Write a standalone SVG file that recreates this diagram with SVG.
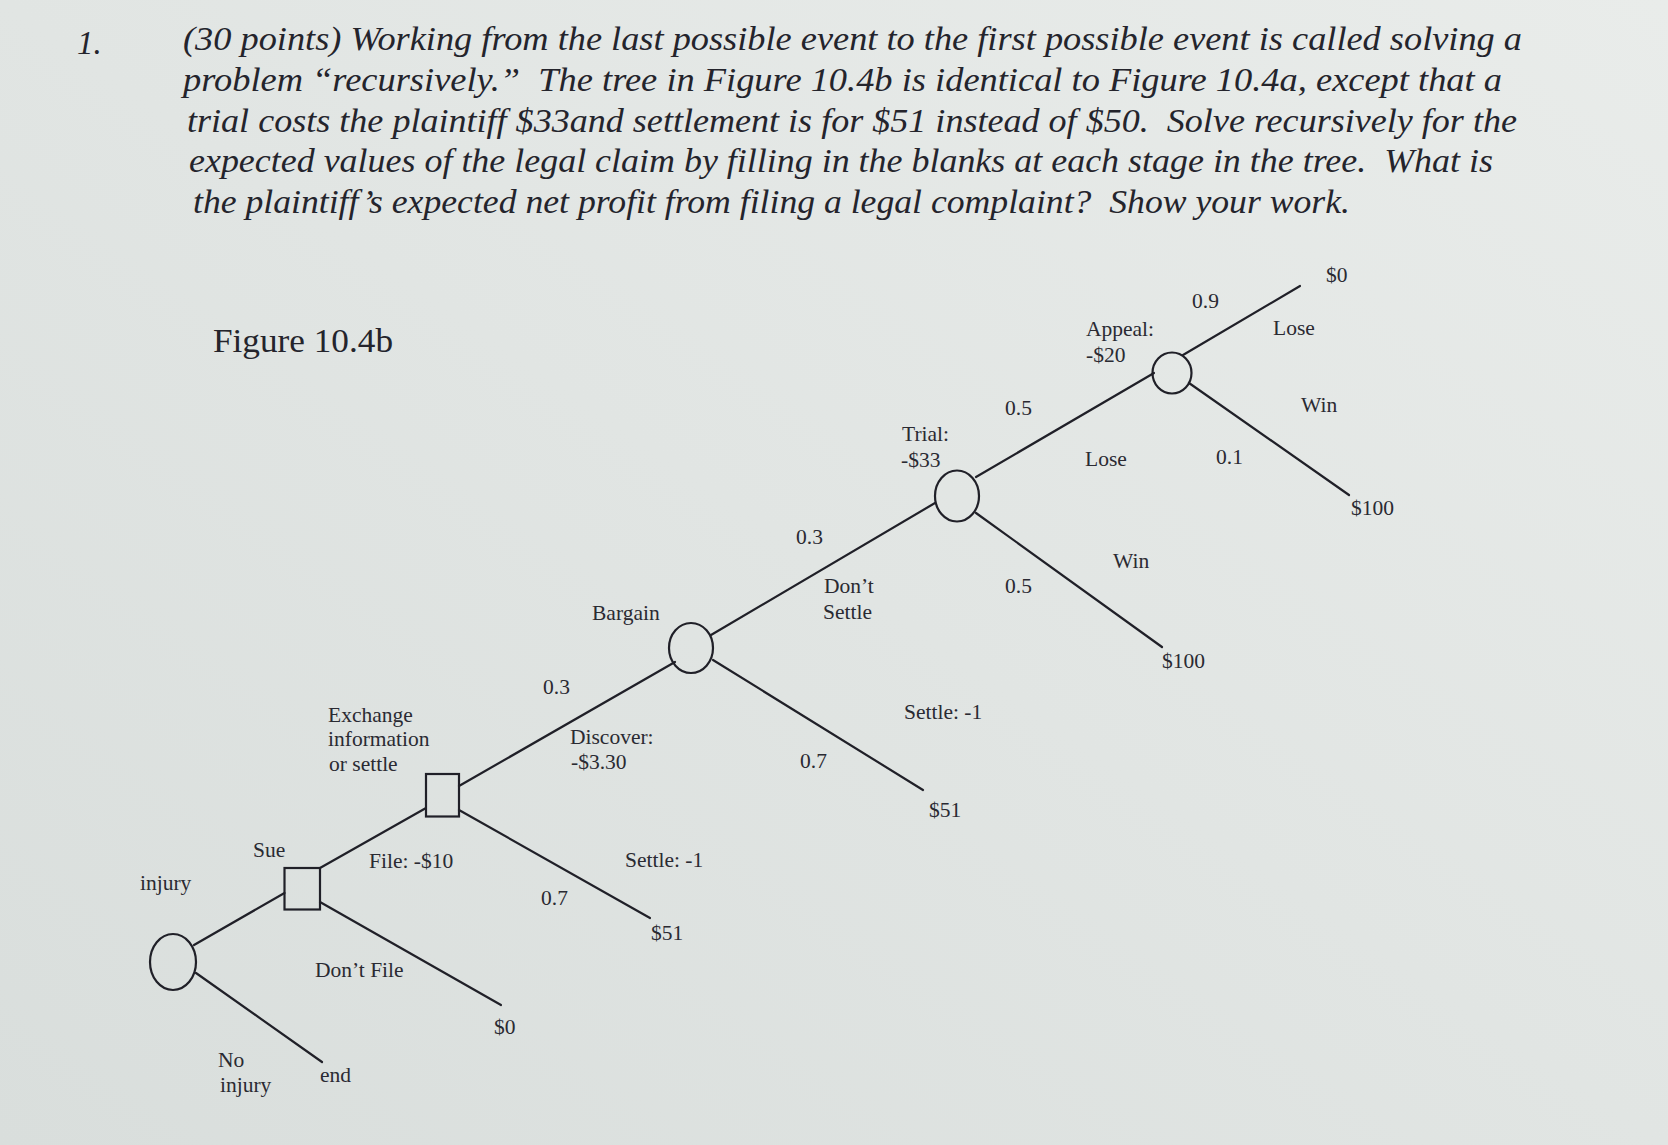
<svg xmlns="http://www.w3.org/2000/svg" width="1668" height="1145" viewBox="0 0 1668 1145">
  <defs>
    <linearGradient id="bg" x1="1" y1="0" x2="0" y2="1">
      <stop offset="0" stop-color="#e9ecea"/>
      <stop offset="1" stop-color="#d9dedc"/>
    </linearGradient>
    <style>
      .q { font-family: "Liberation Serif", "Times New Roman", serif; font-style: italic; font-size: 33px; fill: #24242c; white-space: pre; }
      .fig { font-family: "Liberation Serif", "Times New Roman", serif; font-size: 33px; fill: #24242c; }
      .lbl { font-family: "Liberation Serif", "Times New Roman", serif; font-size: 21.5px; fill: #2a2a32; }
      .edge { stroke: #202028; stroke-width: 2.2; fill: none; stroke-linecap: round; }
      .node { stroke: #202028; stroke-width: 2.2; fill: none; }
    </style>
  </defs>
  <rect x="0" y="0" width="1668" height="1145" fill="url(#bg)"/>

  <g id="question">
    <text class="q" x="77" y="54">1.</text>
    <text class="q" x="183" y="50" textLength="1339" lengthAdjust="spacingAndGlyphs">(30 points) Working from the last possible event to the first possible event is called solving a</text>
    <text class="q" x="183" y="91" textLength="1319" lengthAdjust="spacingAndGlyphs">problem “recursively.”  The tree in Figure 10.4b is identical to Figure 10.4a, except that a</text>
    <text class="q" x="187" y="132" textLength="1330" lengthAdjust="spacingAndGlyphs">trial costs the plaintiff $33and settlement is for $51 instead of $50.  Solve recursively for the</text>
    <text class="q" x="189" y="172" textLength="1304" lengthAdjust="spacingAndGlyphs">expected values of the legal claim by filling in the blanks at each stage in the tree.  What is</text>
    <text class="q" x="193" y="213" textLength="1157" lengthAdjust="spacingAndGlyphs">the plaintiff’s expected net profit from filing a legal complaint?  Show your work.</text>
  </g>

  <text id="figure-title" class="fig" x="213" y="352" textLength="180" lengthAdjust="spacingAndGlyphs">Figure 10.4b</text>

  <g id="connectors">
    <line class="edge" x1="194" y1="945" x2="284.5" y2="893"/>
    <line class="edge" x1="196" y1="973" x2="322" y2="1062"/>
    <line class="edge" x1="320" y1="868" x2="426" y2="808"/>
    <line class="edge" x1="320" y1="902" x2="501" y2="1005"/>
    <line class="edge" x1="459" y1="786" x2="675" y2="662"/>
    <line class="edge" x1="459" y1="810" x2="650" y2="918"/>
    <line class="edge" x1="711" y1="635" x2="935" y2="503"/>
    <line class="edge" x1="713" y1="660" x2="923" y2="790"/>
    <line class="edge" x1="976" y1="477" x2="1154" y2="373"/>
    <line class="edge" x1="976" y1="513" x2="1162" y2="647"/>
    <line class="edge" x1="1183" y1="355" x2="1300" y2="286"/>
    <line class="edge" x1="1189" y1="383" x2="1349" y2="495"/>
  </g>

  <g id="node-injury">
    <ellipse class="node" cx="173" cy="962" rx="23" ry="28"/>
    <text class="lbl" x="140" y="890">injury</text>
    <text class="lbl" x="218" y="1067">No</text>
    <text class="lbl" x="220" y="1092">injury</text>
    <text class="lbl" x="320" y="1082">end</text>
  </g>

  <g id="node-sue">
    <rect class="node" x="284.5" y="868" width="35.5" height="41.5"/>
    <text class="lbl" x="253" y="857">Sue</text>
    <text class="lbl" x="369" y="868">File: -$10</text>
    <text class="lbl" x="315" y="977">Don’t File</text>
    <text class="lbl" x="494" y="1034">$0</text>
  </g>

  <g id="node-exchange">
    <rect class="node" x="426" y="774" width="33" height="42.5"/>
    <text class="lbl" x="328" y="722">Exchange</text>
    <text class="lbl" x="328" y="746">information</text>
    <text class="lbl" x="329" y="771">or settle</text>
    <text class="lbl" x="543" y="694">0.3</text>
    <text class="lbl" x="570" y="744">Discover:</text>
    <text class="lbl" x="571" y="769">-$3.30</text>
    <text class="lbl" x="541" y="905">0.7</text>
    <text class="lbl" x="625" y="867">Settle: -1</text>
    <text class="lbl" x="651" y="940">$51</text>
  </g>

  <g id="node-bargain">
    <ellipse class="node" cx="691" cy="648" rx="22" ry="25"/>
    <text class="lbl" x="592" y="620">Bargain</text>
    <text class="lbl" x="796" y="544">0.3</text>
    <text class="lbl" x="824" y="593">Don’t</text>
    <text class="lbl" x="823" y="619">Settle</text>
    <text class="lbl" x="800" y="768">0.7</text>
    <text class="lbl" x="904" y="719">Settle: -1</text>
    <text class="lbl" x="929" y="817">$51</text>
  </g>

  <g id="node-trial">
    <ellipse class="node" cx="957" cy="496" rx="22" ry="25.5"/>
    <text class="lbl" x="902" y="441">Trial:</text>
    <text class="lbl" x="901" y="467">-$33</text>
    <text class="lbl" x="1005" y="415">0.5</text>
    <text class="lbl" x="1005" y="593">0.5</text>
    <text class="lbl" x="1085" y="466">Lose</text>
    <text class="lbl" x="1113" y="568">Win</text>
    <text class="lbl" x="1162" y="668">$100</text>
  </g>

  <g id="node-appeal">
    <ellipse class="node" cx="1172" cy="373" rx="19.5" ry="20.5"/>
    <text class="lbl" x="1086" y="336">Appeal:</text>
    <text class="lbl" x="1086" y="362">-$20</text>
    <text class="lbl" x="1192" y="308">0.9</text>
    <text class="lbl" x="1326" y="282">$0</text>
    <text class="lbl" x="1273" y="335">Lose</text>
    <text class="lbl" x="1301" y="412">Win</text>
    <text class="lbl" x="1216" y="464">0.1</text>
    <text class="lbl" x="1351" y="515">$100</text>
  </g>
</svg>
